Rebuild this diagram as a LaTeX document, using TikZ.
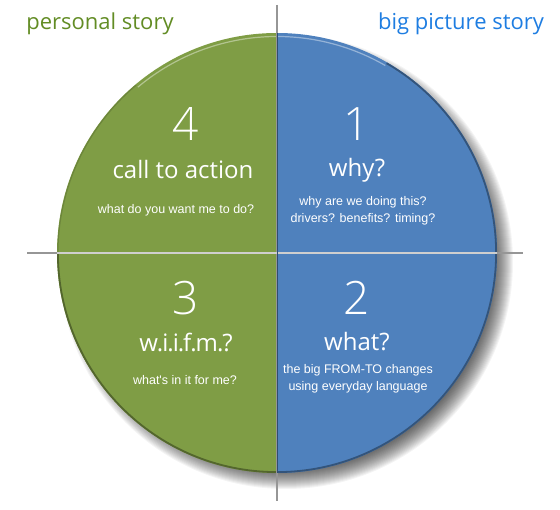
\documentclass[tikz,border=0pt]{standalone}
\usepackage{fontspec}
\setmainfont{Open Sans}
\newfontfamily\smallfont{Liberation Sans}
\newfontfamily\lightfont{Open Sans Light}
\definecolor{pgreen}{RGB}{127,157,69}
\definecolor{pblue}{RGB}{79,129,189}
\definecolor{tgreen}{RGB}{98,140,36}
\definecolor{tblue}{RGB}{30,125,225}
\definecolor{axisgray}{RGB}{150,150,150}
\tikzset{
  bignum/.style={text=white,font=\lightfont\fontsize{46}{48}\selectfont},
  head/.style={text=white,font=\fontsize{24}{28}\selectfont},
  sub/.style={text=white,font=\smallfont\fontsize{12.5}{17.5}\selectfont,align=center},
  title/.style={font=\fontsize{22}{26}\selectfont}
}
\begin{document}
\begin{tikzpicture}[x=1pt,y=1pt]
\useasboundingbox (0,0) rectangle (560,510);
\coordinate (C) at (277,257);
% soft shadow
\foreach \k in {0,...,22}{
  \fill[black,opacity=0.045] (286,248) circle ({205+\k});
}
% halves
\fill[pgreen] (277,477) arc[start angle=90,end angle=270,radius=220] -- cycle;
\fill[pblue] (277,37) arc[start angle=-90,end angle=90,radius=220] -- cycle;
% rim shading
\draw[pgreen!65!black,line width=1.8] (277,37.9) arc[start angle=-90,end angle=-180,radius=219.1];
\draw[pgreen!85!black,line width=1.2] (57.9,257) arc[start angle=180,end angle=130,radius=219.1];
\draw[pblue!65!black,line width=1.8] (277,37.9) arc[start angle=-90,end angle=60,radius=219.1];
\draw[pgreen!50!white,line width=1.2,opacity=0.8] (277,473.5) arc[start angle=90,end angle=130,radius=216.5];
\draw[pblue!50!white,line width=1.2,opacity=0.8] (277,473.5) arc[start angle=90,end angle=60,radius=216.5];
% axes
\coordinate (vt) at (277,505);
\coordinate (vb) at (277,9);
\coordinate (hl) at (27,257);
\coordinate (hr) at (523,257);
\draw[axisgray,line width=1.2] (vt) -- (vb);
\draw[axisgray,line width=1.2] (hl) -- (hr);
\draw[white,opacity=0.55,line width=1.2] (57,257) -- (497,257);
\draw[pblue!60!black,line width=0.8] (277.8,37) -- (277.8,477);
% titles
\node[title,text=tgreen] (ps) at (100,486) {personal story};
\node[title,text=tblue] (bp) at (461,486) {big picture story};
% quadrant 4
\node[bignum] (n4) at (186,386) {4};
\node[head] (h4) at (183,340) {call to action};
\node[sub] (s4) at (176,300) {what do you want me to do?};
% quadrant 1
\node[bignum] (n1) at (357,386) {1};
\node[head] (h1) at (357,340) {why?};
\node[sub] (s1) at (363,299) {why are we doing this?\\drivers? benefits? timing?};
% quadrant 3
\node[bignum] (n3) at (186,212) {3};
\node[head] (h3) at (186,168) {w\kern-1pt.\kern-1pt i\kern-1pt.\kern-1pt i\kern-1pt.\kern-1pt f\kern-1pt.\kern-1pt m\kern-1pt.\kern-1pt ?};
\node[sub] (s3) at (185,130) {what's in it for me?};
% quadrant 2
\node[bignum] (n2) at (357,212) {2};
\node[head] (h2) at (357,168) {what?};
\node[sub] (s2) at (358,131) {the big FROM-TO changes\\using everyday language};
\end{tikzpicture}
\end{document}
